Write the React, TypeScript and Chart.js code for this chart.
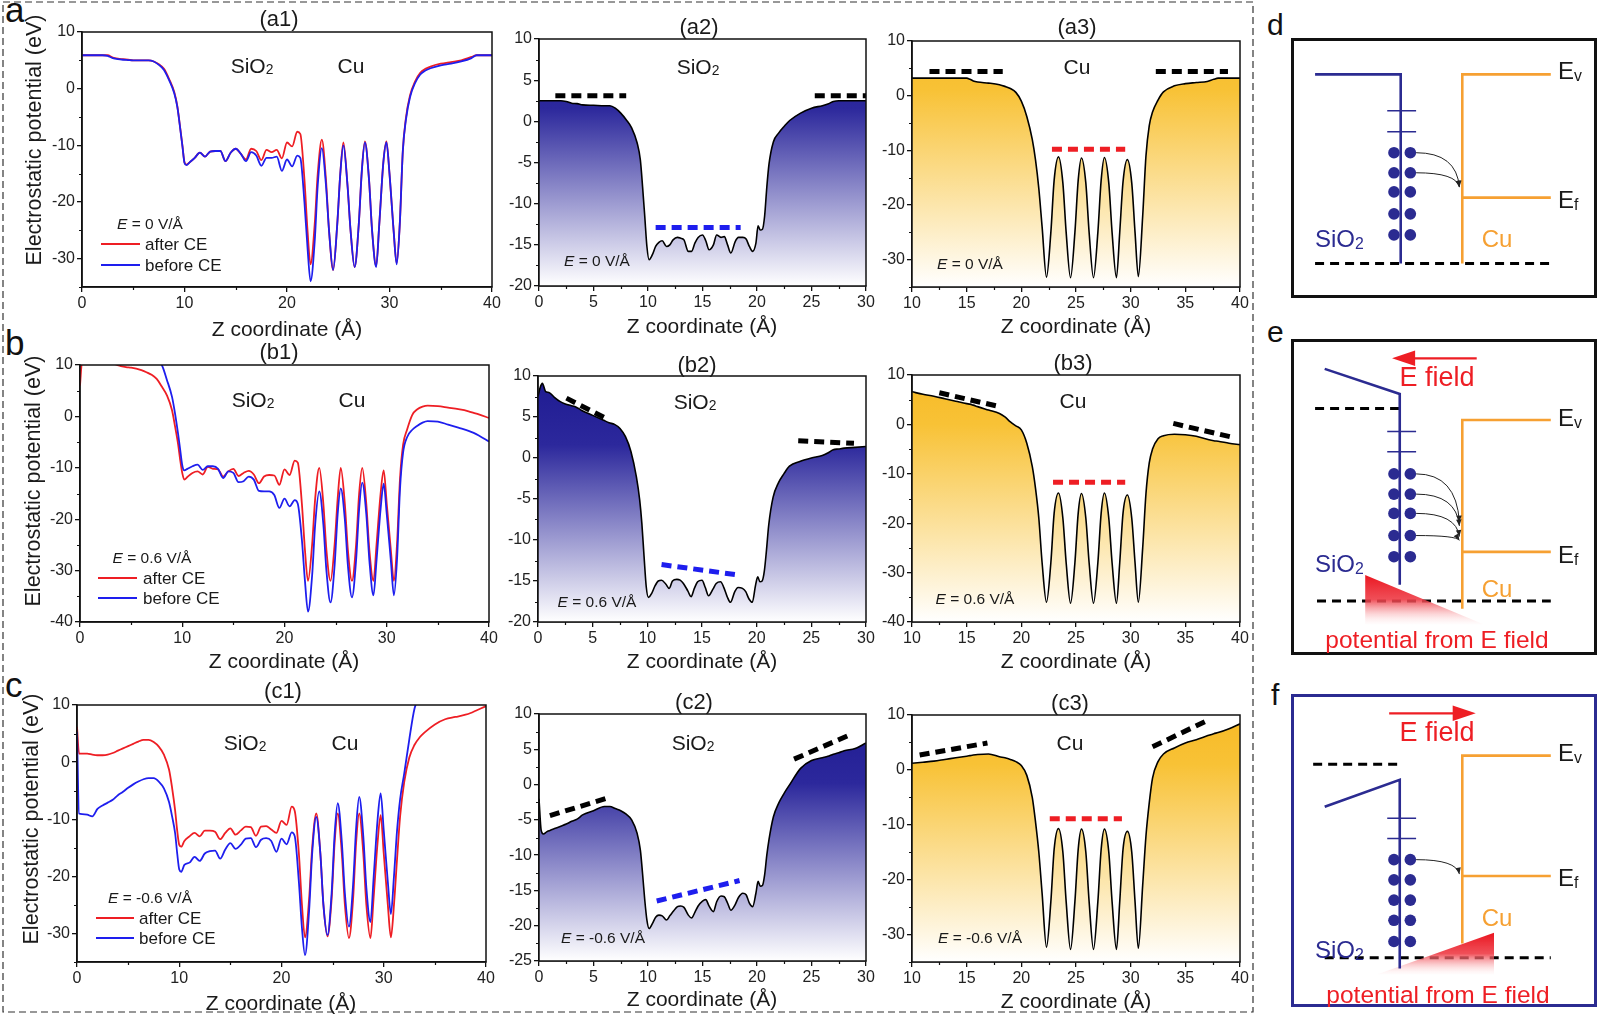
import React, { useEffect, useRef } from 'react';
import { Chart, registerables } from 'chart.js';

Chart.register(...registerables);

const FONT = '"Liberation Sans", Arial, Helvetica, sans-serif';
const RED = 'rgb(238,30,36)';
const BLUE = 'rgb(30,30,238)';
const NAVY = 'rgb(43,43,145)';
const ORANGE = 'rgb(246,160,50)';
const INK = '#1a1a1a';

// ---------------- data: interface cell (panels a1, b1, c1) ----------------
const zFull = [
  0, 0.2, 0.5, 1, 1.5, 2, 2.5, 3, 3.5, 4,
  4.5, 5, 5.5, 6, 6.5, 7, 7.5, 8, 8.5, 9,
  9.3, 9.6, 9.8, 10, 10.2, 10.5, 11, 11.5, 12, 12.5,
  13, 13.5, 14, 14.5, 15, 15.5, 16, 16.5, 17, 17.5,
  18, 18.5, 19, 19.5, 20, 20.5, 21, 21.3, 21.7, 22,
  22.3, 22.7, 23, 23.4, 23.8, 24.1, 24.5, 24.9, 25.2, 25.5,
  25.9, 26.2, 26.6, 27, 27.3, 27.6, 28, 28.3, 28.7, 29,
  29.4, 29.7, 30, 30.4, 30.7, 31, 31.3, 31.6, 32, 32.5,
  33, 33.5, 34, 35, 36, 37, 38, 38.5, 39, 40,
];
const a1Before = [
  5.9, 5.9, 5.9, 5.9, 5.9, 5.9, 5.8, 5.4, 5.2, 5.1,
  5.05, 5.0, 5.0, 5.0, 5.0, 4.8, 4.2, 3.3, 1.5, -0.8,
  -3.2, -7.3, -10.2, -13.1, -13.5, -13.0, -12.2, -11.3, -12.0, -11.1,
  -11.0, -11.0, -12.8, -11.3, -10.6, -11.5, -12.8, -11.2, -11.8, -13.6,
  -12.2, -12.2, -12.0, -14.5, -12.5, -13.7, -11.8, -12.2, -20, -28,
  -34, -27, -17, -10.5, -17, -25, -32, -24, -15, -10,
  -17, -25, -31.5, -24, -14.5, -9.5, -16, -25, -31.5, -24,
  -13, -9.5, -15, -25, -31, -24, -11, -5.5, -1.5, 1.0,
  2.5, 3.2, 3.6, 4.1, 4.4, 4.8, 5.4, 5.9, 5.9, 5.9,
];
const a1After = [
  5.9, 5.9, 5.9, 5.9, 5.9, 5.9, 5.9, 5.5, 5.3, 5.2,
  5.1, 5.0, 5.0, 5.0, 5.0, 4.8, 4.3, 3.5, 1.7, -0.6,
  -3.1, -7.2, -10.1, -13.0, -13.4, -13.0, -12.2, -11.3, -12.0, -11.1,
  -11.0, -11.0, -12.8, -11.3, -10.6, -11.5, -12.5, -10.6, -11.0, -12.6,
  -10.8, -11.2, -10.8, -12.3, -9.5, -10.2, -7.6, -8.0, -16, -25,
  -31, -24, -15, -9.0, -16, -25, -32, -24, -15, -9.5,
  -17, -25, -31.5, -24, -14.5, -9.3, -16, -25, -31.3, -24,
  -13, -9.3, -15, -25, -30.8, -24, -11, -5.2, -1.2, 1.3,
  2.8, 3.5, 3.9, 4.4, 4.7, 5.0, 5.6, 5.9, 5.9, 5.9,
];
const b1After = [
  6.0, 11, 12, 12, 11.5, 11, 10.7, 10.4, 10.1, 9.8,
  9.6, 9.5, 9.3, 9.0, 8.6, 8.1, 7.3, 5.8, 4.1, 1.2,
  -2.0, -5.5, -8.5, -11.0, -12.3, -11.8, -11.0, -10.7, -11.3, -9.8,
  -10.2, -10.3, -11.7, -10.7, -10.2, -11.6, -11.0, -10.6, -11.3, -13.0,
  -11.7, -11.4, -11.5, -13.3, -10.3, -11.4, -8.6, -9.0, -17, -26,
  -32, -25, -16, -10, -17, -26, -32, -25, -16, -10,
  -17, -26, -32, -25, -15, -10, -17, -26, -32, -25,
  -15, -10.5, -17, -26, -32, -25, -12, -5.5, -2.5, 0.3,
  1.4, 1.9, 2.1, 2.0, 1.7, 1.4, 1.0, 0.7, 0.4, -0.3,
];
const b1Before = [
  15, 15, 14.8, 14.6, 14.4, 14.2, 14.0, 13.8, 13.6, 13.4,
  13.2, 13.0, 12.8, 12.5, 12.0, 11.4, 10.8, 10.0, 7.1, 3.8,
  0.5, -3.5, -6.5, -9.5, -10.5, -10.2, -9.7, -9.4, -10.4, -9.7,
  -9.7, -10.2, -12.0, -10.7, -11.0, -12.8, -12.6, -11.7, -12.3, -14.5,
  -14.6, -14.6, -15.3, -17.8, -16.0, -17.5, -16.3, -17.0, -24, -32,
  -38, -31, -21, -14.6, -21, -30, -36.2, -29, -19, -14.0,
  -20, -29, -35.2, -28, -18, -12.9, -19, -28, -34.8, -28,
  -18, -13.1, -19, -28, -34.8, -28, -14, -7, -4.0, -2.6,
  -1.8, -1.2, -0.9, -1.0, -1.6, -2.2, -2.8, -3.2, -3.7, -4.9,
];
const c1After = [
  6.2, 1.5, 1.5, 1.5, 1.3, 1.2, 1.2, 1.3, 1.6, 2.0,
  2.4, 2.8, 3.2, 3.6, 3.9, 3.9, 3.5, 2.7, 1.3, -1.3,
  -4.5, -8.5, -12, -14.5, -14.8, -13.8, -13.0, -12.4, -13.0, -12.0,
  -12.0, -12.2, -13.5, -12.4, -11.6, -12.7, -12.0, -11.3, -11.4, -12.9,
  -11.3, -11.2, -11.8, -12.4, -10.3, -11.0, -7.8, -8.6, -16, -25,
  -30.7, -24, -15, -9.0, -16, -25, -30.5, -24, -14, -9.0,
  -16, -25, -30.8, -24, -14, -9.0, -16, -25, -30.8, -24,
  -14, -9.3, -16, -25, -30.7, -25, -17, -9.5, -3.5, 0.8,
  3.0, 4.3, 5.2, 6.6, 7.5, 7.9, 8.3, 8.6, 9.0, 9.8,
];
const c1Before = [
  5.3, -9.0, -9.1, -9.2, -9.5, -8.2, -7.6, -7.1, -6.6, -5.8,
  -5.2, -4.5, -3.9, -3.4, -3.0, -2.8, -2.8, -3.4, -4.6, -7.0,
  -9.5, -12.5, -16, -18.8, -19.2, -18.0, -17.6, -16.6, -17.3, -16.0,
  -15.6, -15.5, -16.9, -15.3, -14.2, -15.2, -14.5, -13.4, -13.3, -14.9,
  -13.6, -13.3, -13.8, -15.7, -13.4, -14.4, -12.3, -13.0, -21, -29,
  -33.8, -26, -16, -9.6, -16, -25, -30.3, -23, -12.5, -7.2,
  -14, -23, -28.8, -21.5, -11.5, -6.1, -13, -22, -28, -20.5,
  -10, -5.5, -12, -21, -26.6, -20, -12, -6.5, -2, 4,
  9.3, 11.5, 13, 14.5, 15.5, 16, 16.5, 16.7, 17, 17.5,
];

// ---------------- data: SiO2 slab (panels a2, b2, c2) ----------------
const zSiO2 = [
  0, 0.2, 0.4, 0.7, 1, 1.5, 2, 2.5, 3, 3.5,
  4, 5, 6, 6.5, 7, 7.5, 8, 8.5, 9, 9.3,
  9.5, 9.7, 9.9, 10.1, 10.4, 10.7, 11, 11.3, 11.7, 12,
  12.3, 12.7, 13, 13.3, 13.7, 14, 14.3, 14.6, 15, 15.3,
  15.6, 16, 16.3, 16.7, 17, 17.3, 17.6, 18, 18.3, 18.7,
  19, 19.3, 19.6, 19.9, 20.1, 20.3, 20.5, 20.7, 20.9, 21.1,
  21.5, 22, 22.5, 23, 24, 25, 26, 26.5, 27, 27.5,
  28, 29, 30,
];
const a2Pot = [
  2.5, 2.5, 2.5, 2.5, 2.5, 2.5, 2.5, 2.4, 2.2, 2.15,
  2.0, 1.95, 1.9, 1.9, 1.6, 1.0, 0.2, -0.8, -2.6, -4.7,
  -7.9, -11.5, -15.2, -16.8, -16.2, -15.2, -14.7, -14.5, -15.2, -15.0,
  -14.4, -14.1, -14.2, -14.4, -15.8, -15.8, -14.8, -14.1, -13.8, -14.5,
  -15.6, -15.0, -13.8, -14.1, -14.0, -15.0, -16.0, -14.6, -14.1, -14.1,
  -14.3, -15.2, -15.8, -14.8, -12.7, -13.2, -13.1, -11.5, -8.0, -5.2,
  -2.5, -1.4, -0.6, 0.1, 1.0, 1.6, 1.9, 2.1, 2.4, 2.5,
  2.5, 2.5, 2.5,
];
const b2Pot = [
  7.5, 8.6, 9.1, 8.1, 8.0, 7.4, 6.9, 6.6, 6.4, 6.2,
  5.8, 5.2, 4.6, 4.3, 4.1, 3.6, 2.6, 0.8, -2.3, -5.1,
  -8.0, -12.0, -15.7, -17.0, -16.5, -15.6, -15.0, -14.9, -15.4, -15.9,
  -15.0, -14.8, -14.9, -15.3, -16.2, -16.9, -15.9, -15.1, -14.9, -15.8,
  -16.8, -16.0, -15.3, -15.1, -15.8, -16.9, -17.6, -16.3, -15.8, -15.9,
  -16.3, -17.2, -17.6, -15.5, -14.5, -15.1, -15.0, -13.8, -11.2, -8.2,
  -4.8, -3.0, -1.9, -1.0, -0.4, 0.0, 0.3, 0.6, 1.0, 1.1,
  1.2, 1.3, 1.4,
];
const c2Pot = [
  -2.0, -6.5, -7.0, -6.7, -6.5, -6.2, -5.9, -5.6, -5.2, -4.9,
  -4.3, -3.7, -3.1, -3.1, -3.4, -3.7, -4.2, -5.0, -6.9, -9.3,
  -12.6, -16.3, -19.2, -20.4, -19.7, -18.8, -18.5, -18.6, -19.2, -18.6,
  -18.0, -17.3, -17.2, -17.4, -18.5, -18.9, -18.1, -17.2, -16.5, -16.3,
  -17.2, -18.0, -16.6, -15.8, -15.9, -16.8, -17.8, -17.0, -16.0, -15.4,
  -15.6, -16.8, -17.3, -15.4, -13.7, -14.4, -14.3, -12.8, -10.0, -7.8,
  -4.6, -2.6, -1.2, 0.0, 2.3, 3.4, 3.8, 4.0, 4.3, 4.5,
  4.8, 5.1, 5.9,
];

// ---------------- data: Cu slab (panels a3, b3, c3) ----------------
const zCu = [
  10, 11, 12, 13, 14, 15, 15.3, 15.6, 16, 17,
  18, 18.5, 19, 19.5, 20, 20.5, 21, 21.3, 21.6, 21.9,
  22.3, 22.7, 23, 23.4, 23.8, 24.1, 24.5, 24.9, 25.2, 25.5,
  25.9, 26.2, 26.6, 27, 27.3, 27.6, 28, 28.3, 28.7, 29,
  29.3, 29.7, 30.1, 30.4, 30.7, 31.1, 31.4, 31.7, 32, 32.5,
  33, 34, 35, 36, 37, 37.6, 38, 39, 40,
];
const a3Pot = [
  3.2, 3.2, 3.2, 3.2, 3.2, 3.2, 3.0, 2.7, 2.5, 2.3,
  2.0, 1.7, 1.3, 0.6, -1.0, -3.8, -8.0, -11.8, -17.0, -24.0,
  -33.2, -25, -15.5, -11.2, -16, -25, -33.3, -25, -15.5, -11.4,
  -16, -25, -33.3, -25, -15.5, -11.3, -16, -25, -33.3, -25,
  -15.8, -11.7, -16, -25, -33.1, -22, -11, -5.5, -3.0, -0.8,
  0.7, 1.8, 2.2, 2.4, 2.6, 3.0, 3.2, 3.2, 3.2,
];
const b3Pot = [
  6.6, 6.1, 5.7, 5.2, 4.7, 4.2, 4.1, 3.9, 3.6, 2.9,
  2.2, 1.5, 0.5, -0.3, -1.1, -3.8, -8.5, -13, -19, -28,
  -36, -28, -18, -13.9, -19, -28, -36.2, -28, -18, -14.0,
  -19, -28, -36.2, -28, -18, -13.9, -19, -28, -36.2, -28,
  -18, -14.3, -19, -28, -36, -25, -14, -7.8, -5.0, -2.9,
  -2.3, -2.0, -2.1, -2.4, -3.0, -3.3, -3.4, -3.8, -4.1,
];
const c3Pot = [
  1.2, 1.4, 1.6, 1.9, 2.2, 2.5, 2.6, 2.7, 2.8, 2.9,
  2.4, 2.2, 1.9, 1.5, 0.8, -1.0, -5.0, -9.5, -15.0, -22.5,
  -32.3, -24, -14.5, -10.7, -15, -24, -32.7, -24, -14.5, -10.8,
  -15, -24, -32.7, -24, -14.5, -10.8, -15, -24, -32.7, -24,
  -14.5, -11.2, -15, -24, -32.5, -21, -12, -6, -1.5, 1.5,
  2.9, 4.0, 4.9, 5.5, 6.2, 6.6, 6.8, 7.5, 8.4,
];

// guide segments [x0, y0, x1, y1] in data units
const a2Guides = { vac: [[1.5, 3.1, 8.0, 3.1], [25.3, 3.1, 30, 3.1]], slab: [10.7, -12.9, 18.5, -12.9] };
const b2Guides = { vac: [[2.6, 7.3, 6.4, 4.7], [23.8, 2.1, 28.9, 1.8]], slab: [11.3, -13.0, 18.5, -14.3] };
const c2Guides = { vac: [[1.0, -4.4, 6.3, -1.9], [23.4, 3.6, 28.3, 6.9]], slab: [10.8, -16.5, 18.4, -13.6] };
const a3Guides = { vac: [[11.6, 4.4, 18.3, 4.4], [32.3, 4.4, 38.9, 4.4]], slab: [22.8, -9.8, 29.5, -9.8] };
const b3Guides = { vac: [[12.5, 6.4, 17.8, 3.7], [33.9, 0.2, 39.1, -2.5]], slab: [22.9, -11.7, 29.5, -11.7] };
const c3Guides = { vac: [[10.7, 2.7, 16.9, 4.9], [32.0, 4.2, 36.8, 8.8]], slab: [22.6, -8.9, 29.2, -8.9] };

// ---------------- schematic geometry (box-local units) ----------------
const dSiO2Edge = [[19, 32], [108, 32], [108, 230]];
const dTraps = [[94, 70, 124, 70], [94, 92, 124, 92]];
const dElecY = [114, 135, 155, 178, 200];
const dCuEdge = [[264, 32], [172, 32], [172, 230]];
const dCuEf = [[172, 161], [264, 161]];
const dDashes = [[19, 230, 264, 230]];
const dHops = [[124, 114, 169, 150], [124, 135, 169, 150]];

const eSiO2Edge = [[29, 25], [107, 51], [107, 249]];
const eTraps = [[94, 90, 124, 90], [94, 111, 124, 111]];
const eElecY = [134, 155, 175, 198, 220];
const eCuEdge = [[264, 78], [172, 78], [172, 274]];
const eCuEf = [[172, 215], [264, 215]];
const eDashes = [[19, 66, 107, 66], [21, 266, 264, 266]];
const eHops = [[124, 134, 169, 184], [124, 155, 169, 188], [124, 175, 169, 199], [124, 198, 169, 203]];
const eWedge = [71, 239, 194, 290];
const eField = [187, 99, 14];

const fSiO2Edge = [[29, 111], [107, 83], [107, 279]];
const fTraps = [[94, 123, 124, 123], [94, 144, 124, 144]];
const fElecY = [166, 187, 208, 229, 251];
const fCuEdge = [[264, 58], [172, 58], [172, 253]];
const fCuEf = [[172, 183], [264, 183]];
const fDashes = [[17, 67, 107, 67], [29, 268, 264, 268]];
const fHops = [[124, 166, 169, 181]];
const fWedge = [84, 285, 205, 242];
const fField = [96, 186, 14];

const elecX = [101, 118];

// ---------------- text helpers ----------------
type Part = { t: string; italic?: boolean; sub?: boolean };
type TextItem = { parts: Part[]; x: number; y: number; size: number; color: string; align: string; rotate: number };

function parse(s: string): Part[] {
  const parts: Part[] = [];
  let buf = '';
  let italic = false;
  for (let i = 0; i < s.length; i++) {
    const ch = s[i];
    if (ch === '*') {
      if (buf) parts.push({ t: buf, italic });
      buf = '';
      italic = !italic;
    } else if (ch === '_') {
      if (buf) parts.push({ t: buf, italic });
      buf = '';
      parts.push({ t: s[i + 1], italic, sub: true });
      i++;
    } else buf += ch;
  }
  if (buf) parts.push({ t: buf, italic });
  return parts;
}

function tx(s: string, x: number, y: number, size: number, color = INK, align = 'center', rotate = 0): TextItem {
  return { parts: parse(s), x, y, size, color, align, rotate };
}

function drawText(ctx: CanvasRenderingContext2D, it: TextItem, ox: number, oy: number) {
  const font = (p: Part) => `${p.italic ? 'italic ' : ''}${p.sub ? it.size * 0.66 : it.size}px ${FONT}`;
  ctx.save();
  ctx.translate(it.x - ox, it.y - oy);
  if (it.rotate) ctx.rotate(it.rotate);
  ctx.textAlign = 'left';
  ctx.textBaseline = 'alphabetic';
  ctx.fillStyle = it.color;
  const ws = it.parts.map((p) => {
    ctx.font = font(p);
    return ctx.measureText(p.t).width;
  });
  const total = ws.reduce((a, b) => a + b, 0);
  let x = it.align === 'center' ? -total / 2 : it.align === 'right' ? -total : 0;
  const base = it.size * 0.358;
  it.parts.forEach((p, i) => {
    ctx.font = font(p);
    ctx.fillText(p.t, x, base + (p.sub ? it.size * 0.08 : 0));
    x += ws[i];
  });
  ctx.restore();
}

// ---------------- dataset helpers ----------------
const pts = (xs: number[], ys: number[]) => xs.map((x, i) => ({ x, y: ys[i] }));
const fin = (...v: number[]) => v.every((n) => Number.isFinite(n));

const vGrad = (stops: [number, string][]) => (ctx: any) => {
  const ch = ctx.chart;
  const a = ch && ch.chartArea;
  if (!a || !fin(a.top, a.bottom) || a.bottom <= a.top) return stops[0][1];
  const g = ch.ctx.createLinearGradient(0, a.top, 0, a.bottom);
  stops.forEach(([o, c]) => g.addColorStop(o, c));
  return g;
};

function curve(xs: number[], ys: number[], color: string, width = 1.8, extra: any = {}) {
  return {
    data: pts(xs, ys),
    borderColor: color,
    borderWidth: width,
    pointRadius: 0,
    cubicInterpolationMode: 'monotone',
    fill: false,
    ...extra,
  };
}

function guide(seg: number[], color: string) {
  return {
    data: [{ x: seg[0], y: seg[1] }, { x: seg[2], y: seg[3] }],
    borderColor: color,
    borderWidth: 5,
    borderDash: [10, 6],
    borderCapStyle: 'butt',
    pointRadius: 0,
    fill: false,
    tension: 0,
  };
}

const BLUE_FILL = vGrad([[0, 'rgb(30,26,145)'], [0.28, 'rgb(44,40,156)'], [1, 'rgb(255,255,255)']]);
const GOLD_FILL = vGrad([[0, 'rgb(247,186,38)'], [0.2, 'rgb(248,194,54)'], [1, 'rgb(255,255,255)']]);

function slabSets(xs: number[], ys: number[], g: any, slabColor: string, fillFn: any) {
  return [
    guide(g.vac[0], '#000'),
    guide(g.vac[1], '#000'),
    guide(g.slab, slabColor),
    curve(xs, ys, '#000', 1.6, { fill: 'start', backgroundColor: fillFn }),
  ];
}

// ---------------- plot specs ----------------
interface PlotSpec {
  id: string;
  l: number; t: number; r: number; b: number;
  x: number[];
  y: number[];
  datasets: any[];
  texts: TextItem[];
  legend?: { color: string; x0: number; x1: number; y: number }[];
}

const YT = 'Electrostatic potential (eV)';
const XT = 'Z coordinate (Å)';
const ROT = -Math.PI / 2;

const PLOTS: PlotSpec[] = [
  {
    id: 'a1', l: 82, t: 32, r: 492, b: 287, x: [0, 40, 10], y: [-35, 10, 10],
    datasets: [curve(zFull, a1Before, BLUE), curve(zFull, a1After, RED)],
    texts: [
      tx('(a1)', 279, 18, 22), tx(YT, 33, 140, 21.5, INK, 'center', ROT), tx(XT, 287, 328, 21),
      tx('SiO_2', 252, 65, 21), tx('Cu', 351, 65, 21), tx('*E* = 0 V/Å', 150, 223, 15.5),
      tx('after CE', 145, 244, 17, INK, 'left'), tx('before CE', 145, 265, 17, INK, 'left'),
    ],
    legend: [{ color: RED, x0: 101, x1: 140, y: 244 }, { color: BLUE, x0: 101, x1: 140, y: 265 }],
  },
  {
    id: 'a2', l: 539, t: 39, r: 866, b: 286, x: [0, 30, 5], y: [-20, 10, 5],
    datasets: slabSets(zSiO2, a2Pot, a2Guides, BLUE, BLUE_FILL),
    texts: [tx('(a2)', 699, 26, 22), tx(XT, 702, 325, 21), tx('SiO_2', 698, 66, 21), tx('*E* = 0 V/Å', 597, 260, 15.5)],
  },
  {
    id: 'a3', l: 912, t: 41, r: 1240, b: 287, x: [10, 40, 5], y: [-35, 10, 10],
    datasets: slabSets(zCu, a3Pot, a3Guides, RED, GOLD_FILL),
    texts: [tx('(a3)', 1077, 26, 22), tx(XT, 1076, 325, 21), tx('Cu', 1077, 66, 21), tx('*E* = 0 V/Å', 970, 263, 15.5)],
  },
  {
    id: 'b1', l: 80, t: 365, r: 489, b: 622, x: [0, 40, 10], y: [-40, 10, 10],
    datasets: [curve(zFull, b1Before, BLUE), curve(zFull, b1After, RED)],
    texts: [
      tx('(b1)', 279, 351, 22), tx(YT, 32, 481, 21.5, INK, 'center', ROT), tx(XT, 284, 660, 21),
      tx('SiO_2', 253, 399, 21), tx('Cu', 352, 399, 21), tx('*E* = 0.6 V/Å', 152, 557, 15.5),
      tx('after CE', 143, 578, 17, INK, 'left'), tx('before CE', 143, 598, 17, INK, 'left'),
    ],
    legend: [{ color: RED, x0: 98, x1: 137, y: 578 }, { color: BLUE, x0: 98, x1: 137, y: 598 }],
  },
  {
    id: 'b2', l: 538, t: 376, r: 866, b: 622, x: [0, 30, 5], y: [-20, 10, 5],
    datasets: slabSets(zSiO2, b2Pot, b2Guides, BLUE, BLUE_FILL),
    texts: [tx('(b2)', 697, 364, 22), tx(XT, 702, 660, 21), tx('SiO_2', 695, 401, 21), tx('*E* = 0.6 V/Å', 597, 601, 15.5)],
  },
  {
    id: 'b3', l: 912, t: 375, r: 1240, b: 622, x: [10, 40, 5], y: [-40, 10, 10],
    datasets: slabSets(zCu, b3Pot, b3Guides, RED, GOLD_FILL),
    texts: [tx('(b3)', 1073, 362, 22), tx(XT, 1076, 660, 21), tx('Cu', 1073, 400, 21), tx('*E* = 0.6 V/Å', 975, 598, 15.5)],
  },
  {
    id: 'c1', l: 77, t: 705, r: 486, b: 962, x: [0, 40, 10], y: [-35, 10, 10],
    datasets: [curve(zFull, c1Before, BLUE), curve(zFull, c1After, RED)],
    texts: [
      tx('(c1)', 283, 690, 22), tx(YT, 30, 819, 21.5, INK, 'center', ROT), tx(XT, 281, 1002, 21),
      tx('SiO_2', 245, 742, 21), tx('Cu', 345, 742, 21), tx('*E* = -0.6 V/Å', 150, 897, 15.5),
      tx('after CE', 139, 918, 17, INK, 'left'), tx('before CE', 139, 938, 17, INK, 'left'),
    ],
    legend: [{ color: RED, x0: 96, x1: 134, y: 918 }, { color: BLUE, x0: 96, x1: 134, y: 938 }],
  },
  {
    id: 'c2', l: 539, t: 714, r: 866, b: 961, x: [0, 30, 5], y: [-25, 10, 5],
    datasets: slabSets(zSiO2, c2Pot, c2Guides, BLUE, BLUE_FILL),
    texts: [tx('(c2)', 694, 701, 22), tx(XT, 702, 998, 21), tx('SiO_2', 693, 742, 21), tx('*E* = -0.6 V/Å', 603, 937, 15.5)],
  },
  {
    id: 'c3', l: 912, t: 715, r: 1240, b: 962, x: [10, 40, 5], y: [-35, 10, 10],
    datasets: slabSets(zCu, c3Pot, c3Guides, RED, GOLD_FILL),
    texts: [tx('(c3)', 1070, 702, 22), tx(XT, 1076, 1000, 21), tx('Cu', 1070, 742, 21), tx('*E* = -0.6 V/Å', 980, 937, 15.5)],
  },
];

const YAXW = 40, XAXH = 26, PADL = 84, PADT = 44, PADR = 24, PADB = 60;
const MAJOR_TICK = 5, MINOR_TICK = 3;

function plotCanvas(s: PlotSpec) {
  return { left: s.l - PADL, top: s.t - PADT, width: s.r - s.l + PADL + PADR, height: s.b - s.t + PADT + PADB };
}

const isMajor = (v: number, step: number) => Math.abs(v / step - Math.round(v / step)) < 1e-6;

function makePlotConfig(s: PlotSpec): any {
  const cv = plotCanvas(s);
  const axis = (min: number, max: number, step: number, isX: boolean) => ({
    type: 'linear',
    min,
    max,
    ticks: {
      stepSize: step / 2,
      autoSkip: false,
      maxRotation: 0,
      padding: 2,
      color: '#222',
      font: { family: FONT, size: 16 },
      callback: (v: any) => (isMajor(Number(v), step) ? String(Math.round(Number(v) * 100) / 100) : ''),
    },
    grid: {
      drawOnChartArea: false,
      drawTicks: true,
      tickLength: MAJOR_TICK,
      color: '#111',
      lineWidth: 1.3,
      tickColor: (c: any) => (c.tick && isMajor(Number(c.tick.value), step) ? '#111' : 'rgba(0,0,0,0)'),
    },
    border: { display: true, color: '#111', width: 1.5 },
    afterFit: (sc: any) => {
      if (isX) sc.height = XAXH;
      else sc.width = YAXW;
    },
  });
  const decor = {
    id: 'decor_' + s.id,
    afterDatasetsDraw(chart: any) {
      const { ctx, chartArea: a } = chart;
      ctx.save();
      // minor ticks (shorter)
      ctx.strokeStyle = '#111';
      ctx.lineWidth = 1.2;
      const xs = chart.scales.x, ys = chart.scales.y;
      ctx.beginPath();
      xs.ticks.forEach((t: any) => {
        if (isMajor(t.value, s.x[2])) return;
        const px = Math.round(xs.getPixelForValue(t.value)) + 0.5;
        ctx.moveTo(px, a.bottom);
        ctx.lineTo(px, a.bottom + MINOR_TICK);
      });
      ys.ticks.forEach((t: any) => {
        if (isMajor(t.value, s.y[2])) return;
        const py = Math.round(ys.getPixelForValue(t.value)) + 0.5;
        ctx.moveTo(a.left, py);
        ctx.lineTo(a.left - MINOR_TICK, py);
      });
      ctx.stroke();
      // frame
      ctx.lineWidth = 1.5;
      ctx.strokeRect(a.left, a.top, a.right - a.left, a.bottom - a.top);
      (s.legend || []).forEach((l) => {
        ctx.strokeStyle = l.color;
        ctx.lineWidth = 2;
        ctx.beginPath();
        ctx.moveTo(l.x0 - cv.left, l.y - cv.top);
        ctx.lineTo(l.x1 - cv.left, l.y - cv.top);
        ctx.stroke();
      });
      ctx.restore();
      s.texts.forEach((t) => drawText(ctx, t, cv.left, cv.top));
    },
  };
  return {
    type: 'line',
    data: { datasets: s.datasets },
    options: {
      responsive: false,
      animation: false,
      events: [],
      layout: { padding: { left: PADL - YAXW, top: PADT, right: PADR, bottom: PADB - XAXH } },
      scales: { x: axis(s.x[0], s.x[1], s.x[2], true), y: axis(s.y[0], s.y[1], s.y[2], false) },
      plugins: { legend: { display: false }, tooltip: { enabled: false }, title: { display: false } },
      elements: { point: { radius: 0 }, line: { borderJoinStyle: 'round' } },
    },
    plugins: [decor],
  };
}

// ---------------- schematic specs ----------------
interface SchemSpec {
  id: string;
  left: number; top: number; w: number; h: number;
  border: string;
  siO2: number[][];
  traps: number[][];
  elecY: number[];
  cu: number[][];
  ef: number[][];
  dashes: number[][];
  hops: number[][];
  wedge?: number[];
  field?: number[];
  texts: TextItem[];
}

const SCHEMS: SchemSpec[] = [
  {
    id: 'd', left: 1291, top: 38, w: 306, h: 260, border: '#111',
    siO2: dSiO2Edge, traps: dTraps, elecY: dElecY, cu: dCuEdge, ef: dCuEf, dashes: dDashes, hops: dHops,
    texts: [
      tx('E_v', 1558, 70, 24, INK, 'left'), tx('E_f', 1558, 199, 24, INK, 'left'),
      tx('SiO_2', 1315, 238, 24, NAVY, 'left'), tx('Cu', 1497, 238, 24, ORANGE),
    ],
  },
  {
    id: 'e', left: 1291, top: 339, w: 306, h: 316, border: '#111',
    siO2: eSiO2Edge, traps: eTraps, elecY: eElecY, cu: eCuEdge, ef: eCuEf, dashes: eDashes, hops: eHops,
    wedge: eWedge, field: eField,
    texts: [
      tx('E field', 1437, 376, 27, RED), tx('potential from E field', 1437, 639, 24.5, RED),
      tx('E_v', 1558, 417, 24, INK, 'left'), tx('E_f', 1558, 554, 24, INK, 'left'),
      tx('SiO_2', 1315, 563, 24, NAVY, 'left'), tx('Cu', 1497, 588, 24, ORANGE),
    ],
  },
  {
    id: 'f', left: 1291, top: 694, w: 306, h: 313, border: NAVY,
    siO2: fSiO2Edge, traps: fTraps, elecY: fElecY, cu: fCuEdge, ef: fCuEf, dashes: fDashes, hops: fHops,
    wedge: fWedge, field: fField,
    texts: [
      tx('E field', 1437, 731, 27, RED), tx('potential from E field', 1438, 994, 24.5, RED),
      tx('E_v', 1558, 752, 24, INK, 'left'), tx('E_f', 1558, 877, 24, INK, 'left'),
      tx('SiO_2', 1315, 949, 24, NAVY, 'left'), tx('Cu', 1497, 917, 24, ORANGE),
    ],
  },
];

const xy = (p: number[][]) => p.map((q) => ({ x: q[0], y: q[1] }));

function makeSchemConfig(s: SchemSpec): any {
  const ds: any[] = [];
  const line = (data: any[], color: string, width: number, extra: any = {}) =>
    ds.push({ data, borderColor: color, borderWidth: width, pointRadius: 0, tension: 0, fill: false, ...extra });
  // electrons (top-most)
  ds.push({
    data: s.elecY.flatMap((y) => elecX.map((x) => ({ x, y }))),
    showLine: false,
    pointRadius: 5.8,
    pointBackgroundColor: NAVY,
    pointBorderWidth: 0,
    borderColor: NAVY,
  });
  line(xy(s.siO2), NAVY, 2.6);
  s.traps.forEach((t) => line([{ x: t[0], y: t[1] }, { x: t[2], y: t[3] }], NAVY, 1.6));
  line(xy(s.cu), ORANGE, 2.6);
  line(xy(s.ef), ORANGE, 2.6);
  if (s.field) {
    const [x0, x1, y] = s.field;
    const dir = Math.sign(x1 - x0);
    line([{ x: x0, y }, { x: x1 - dir * 18, y }], RED, 2.2);
  }
  if (s.wedge) {
    const [wx0, wy0, wx1, wy1] = s.wedge;
    const topY = Math.min(wy0, wy1);
    const baseY = Math.max(wy0, wy1);
    ds.push({
      data: [{ x: wx0, y: wy0 }, { x: wx1, y: wy1 }],
      borderWidth: 0,
      borderColor: 'rgba(0,0,0,0)',
      pointRadius: 0,
      tension: 0,
      fill: { value: baseY },
      backgroundColor: (ctx: any) => {
        const ch = ctx.chart;
        const ys = ch && ch.scales && ch.scales.y;
        if (!ys) return RED;
        const p0 = ys.getPixelForValue(topY);
        const p1 = ys.getPixelForValue(baseY);
        if (!fin(p0, p1) || p0 === p1) return RED;
        const g = ch.ctx.createLinearGradient(0, p0, 0, p1);
        g.addColorStop(0, 'rgba(234,22,32,1)');
        g.addColorStop(0.5, 'rgba(238,60,70,0.9)');
        g.addColorStop(1, 'rgba(255,235,235,0.15)');
        return g;
      },
    });
  }
  s.dashes.forEach((d) =>
    line([{ x: d[0], y: d[1] }, { x: d[2], y: d[3] }], '#000', 3, { borderDash: [9, 6], borderCapStyle: 'butt' }),
  );

  const deco = {
    id: 'schem_' + s.id,
    afterDatasetsDraw(chart: any) {
      const { ctx } = chart;
      const X = (v: number) => chart.scales.x.getPixelForValue(v);
      const Y = (v: number) => chart.scales.y.getPixelForValue(v);
      ctx.save();
      // hopping arrows
      ctx.strokeStyle = '#222';
      ctx.fillStyle = '#222';
      ctx.lineWidth = 1;
      s.hops.forEach((h) => {
        const x0 = X(h[0]), y0 = Y(h[1]), x1 = X(h[2]), y1 = Y(h[3]);
        const cx = x1 - 3, cy = y0;
        ctx.beginPath();
        ctx.moveTo(x0, y0);
        ctx.quadraticCurveTo(cx, cy, x1, y1);
        ctx.stroke();
        const ang = Math.atan2(y1 - cy, x1 - cx);
        const L = 7;
        ctx.beginPath();
        ctx.moveTo(x1, y1);
        ctx.lineTo(x1 - L * Math.cos(ang - 0.4), y1 - L * Math.sin(ang - 0.4));
        ctx.lineTo(x1 - L * Math.cos(ang + 0.4), y1 - L * Math.sin(ang + 0.4));
        ctx.closePath();
        ctx.fill();
      });
      // field arrowhead
      if (s.field) {
        const [x0, x1, y] = s.field;
        const dir = Math.sign(x1 - x0);
        ctx.fillStyle = RED;
        ctx.beginPath();
        ctx.moveTo(X(x1), Y(y));
        ctx.lineTo(X(x1 - dir * 24), Y(y - 8));
        ctx.lineTo(X(x1 - dir * 24), Y(y + 8));
        ctx.closePath();
        ctx.fill();
      }
      // frame
      ctx.strokeStyle = s.border;
      ctx.lineWidth = 3;
      ctx.strokeRect(1.5, 1.5, s.w - 3, s.h - 3);
      ctx.restore();
      s.texts.forEach((t) => drawText(ctx, t, s.left, s.top));
    },
  };

  return {
    type: 'line',
    data: { datasets: ds },
    options: {
      responsive: false,
      animation: false,
      events: [],
      layout: { padding: 0 },
      scales: {
        x: { type: 'linear', min: 0, max: s.w, display: false },
        y: { type: 'linear', min: 0, max: s.h, reverse: true, display: false },
      },
      plugins: { legend: { display: false }, tooltip: { enabled: false } },
    },
    plugins: [deco],
  };
}

// ---------------- components ----------------
function ChartBox(props: { left: number; top: number; width: number; height: number; build: () => any }) {
  const ref = useRef<HTMLCanvasElement | null>(null);
  useEffect(() => {
    if (!ref.current) return;
    let chart: Chart | null = null;
    try {
      chart = new Chart(ref.current, props.build());
    } catch (e) {
      console.error(e);
    }
    return () => {
      if (chart) chart.destroy();
    };
  }, []);
  return (
    <canvas
      ref={ref}
      width={props.width}
      height={props.height}
      style={{ position: 'absolute', left: props.left, top: props.top, width: props.width, height: props.height, display: 'block' }}
    />
  );
}

const LETTERS = [
  { t: 'a', x: 5, y: 22, s: 35 },
  { t: 'b', x: 5, y: 355, s: 35 },
  { t: 'c', x: 5, y: 697, s: 35 },
  { t: 'd', x: 1267, y: 35, s: 30 },
  { t: 'e', x: 1267, y: 342, s: 30 },
  { t: 'f', x: 1271, y: 705, s: 30 },
];

export default function App() {
  return (
    <div style={{ position: 'absolute', left: 0, top: 0, width: 1600, height: 1017, background: '#fff', overflow: 'hidden' }}>
      <svg width={1600} height={1017} style={{ position: 'absolute', left: 0, top: 0 }}>
        <rect x={3} y={2} width={1250} height={1010} fill="none" stroke="#333" strokeWidth={1.2} strokeDasharray="7 4" />
        {LETTERS.map((l) => (
          <text key={l.t} x={l.x} y={l.y} fontSize={l.s} fontFamily={FONT} fill="#111">
            {l.t}
          </text>
        ))}
      </svg>
      {PLOTS.map((s) => {
        const cv = plotCanvas(s);
        return <ChartBox key={s.id} {...cv} build={() => makePlotConfig(s)} />;
      })}
      {SCHEMS.map((s) => (
        <ChartBox key={s.id} left={s.left} top={s.top} width={s.w} height={s.h} build={() => makeSchemConfig(s)} />
      ))}
    </div>
  );
}
